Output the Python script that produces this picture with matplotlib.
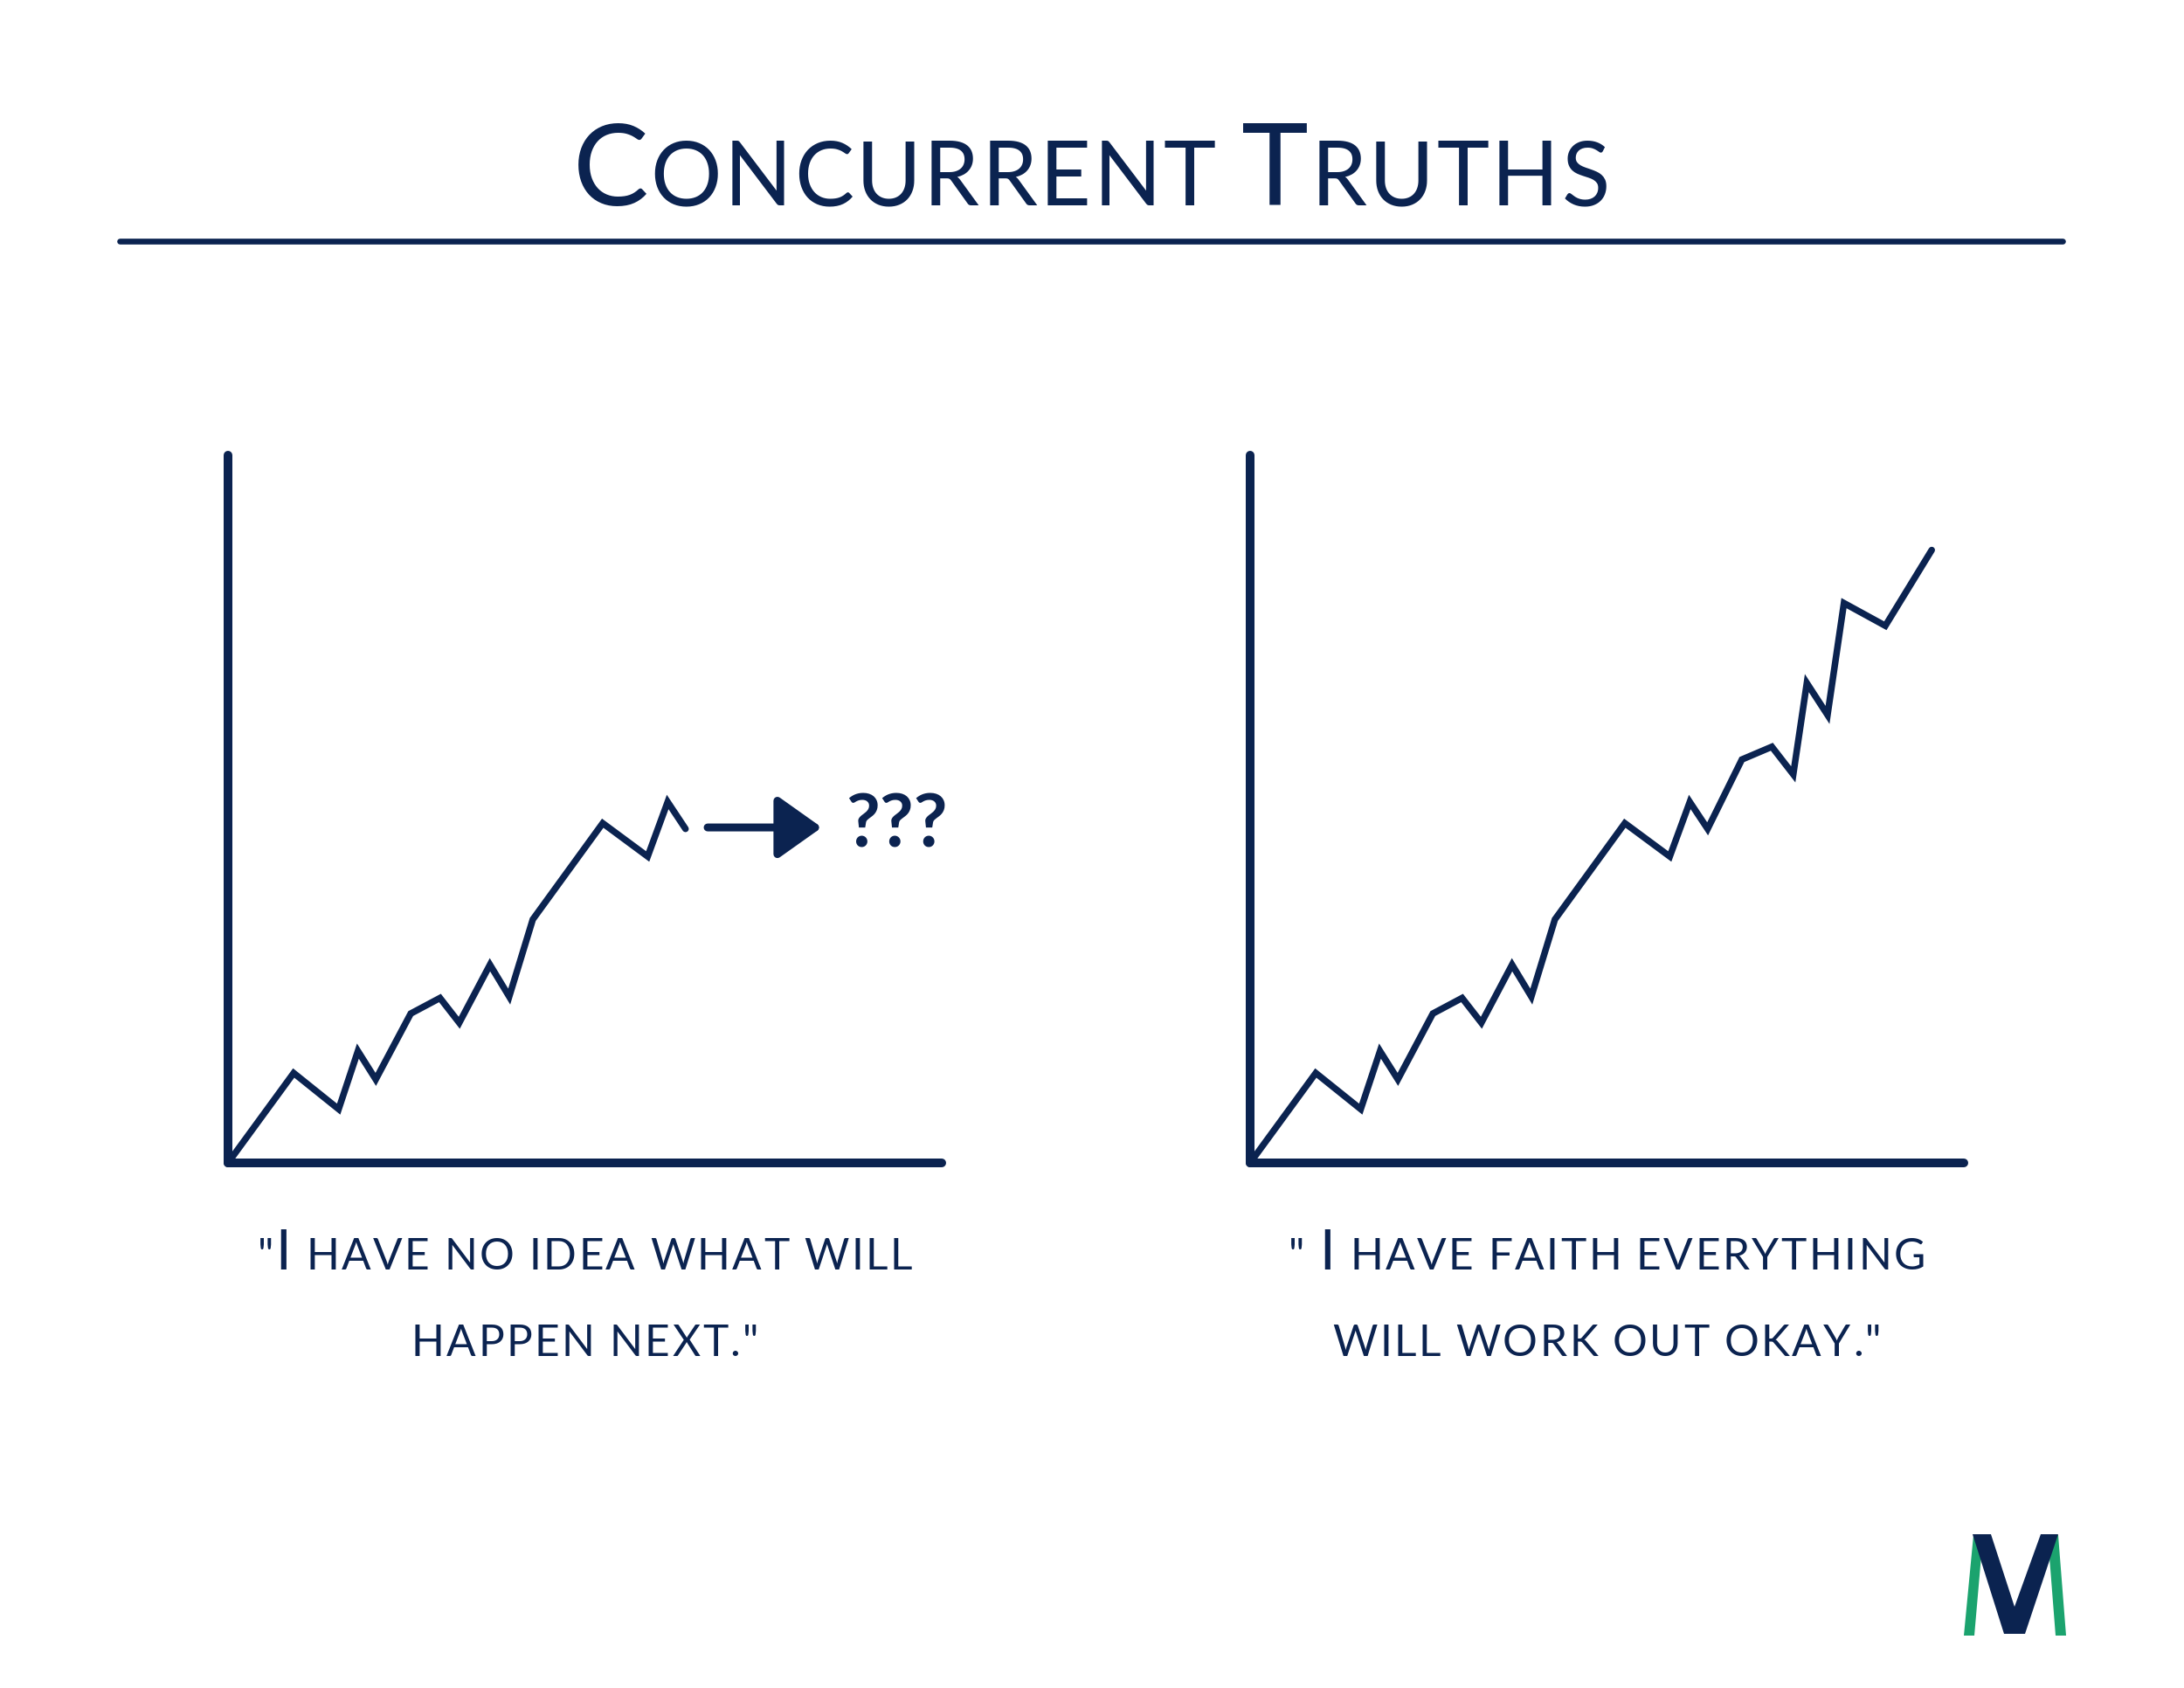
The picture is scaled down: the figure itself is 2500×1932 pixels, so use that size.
import matplotlib
matplotlib.use('Agg')
import matplotlib.pyplot as plt
from matplotlib.patches import Polygon

NAVY = '#0b2350'
GREEN = '#1ba36e'

# Shared path of both charts (axis units 0-100); the left chart stops early
x_steps = [0, 9.2, 15.5, 18.2, 20.7, 25.6, 29.7, 32.4, 36.7, 39.4, 42.7, 52.5,
           58.8, 61.6, 64.1, 68.9, 73.1, 76.1, 78.0, 80.9, 83.2, 89.0, 95.5]
y_values = [0, 12.7, 7.6, 15.8, 11.8, 21.1, 23.3, 19.8, 28.0, 23.5, 34.4, 48.0,
            43.3, 51.0, 47.2, 57.0, 58.8, 54.9, 67.8, 63.3, 79.1, 75.9, 86.6]
known_points = 15

title_parts = [('C', 'big'), ('ONCURRENT', 'small'), (' ', 'small'),
               ('T', 'big'), ('RUTHS', 'small')]
left_caption = [[('"', 'small'), ('I', 'big'), (' HAVE NO IDEA WHAT WILL', 'small')],
                [('HAPPEN NEXT."', 'small')]]
right_caption = [[('" ', 'small'), ('I', 'big'), (' HAVE FAITH EVERYTHING', 'small')],
                 [('WILL WORK OUT OKAY."', 'small')]]
unknown_label = '???'

plt.rcParams['font.family'] = ['Lato', 'DejaVu Sans']

fig = plt.figure(figsize=(25, 19.32), dpi=100)
bg = fig.add_axes([0, 0, 1, 1])
bg.set_xlim(0, 2500)
bg.set_ylim(1932, 0)
bg.axis('off')
renderer = fig.canvas.get_renderer()


def spaced_text(cx, base, parts, sizes, tracking):
    # small-caps style text, laid out letter by letter with extra spacing
    items = []
    for s, kind in parts:
        size = sizes[kind]
        for ch in s:
            if ch == ' ':
                items.append((None, size * 100 / 72 * 0.24))
            else:
                t = bg.text(0, base, ch, fontsize=size, color=NAVY,
                            ha='left', va='baseline')
                items.append((t, t.get_window_extent(renderer).width))
    total = sum(w for _, w in items) + tracking * (len(items) - 1)
    x = cx - total / 2
    for t, w in items:
        if t is not None:
            t.set_x(x)
        x += w + tracking


# title + rule
spaced_text(1249, 235, title_parts, {'big': 93.5, 'small': 73.4}, 2.5)
bg.plot([137, 2361], [276, 276], color=NAVY, lw=4.8, solid_capstyle='round')

# charts
axes_w = 817 / 2500
axes_h = 810 / 1932
bottom = 1 - 1331 / 1932
charts = [(261, known_points, left_caption), (1431, len(x_steps), right_caption)]
for left_px, n, caption in charts:
    ax = fig.add_axes([left_px / 2500, bottom, axes_w, axes_h])
    ax.set_xlim(0, 100)
    ax.set_ylim(0, 100)
    ax.axis('off')
    ax.plot([0, 0], [100, 0], color=NAVY, lw=7.2, solid_capstyle='round', clip_on=False)
    ax.plot([0, 100], [0, 0], color=NAVY, lw=7.2, solid_capstyle='round', clip_on=False)
    ax.plot(x_steps[:n], y_values[:n], color=NAVY, lw=5.4,
            solid_joinstyle='miter', solid_capstyle='round', clip_on=False)
    cx = left_px + 817 / 2
    spaced_text(cx, 1453, caption[0], {'big': 45.2, 'small': 35.7}, 2.5)
    spaced_text(cx, 1552, caption[1], {'big': 45.2, 'small': 35.7}, 2.5)
    if n == known_points:
        ax.annotate('', xy=(83.2, 47.4), xytext=(67.2, 47.4),
                    arrowprops=dict(arrowstyle='-|>,head_length=31,head_width=22',
                                    mutation_scale=1, lw=6.5, color=NAVY,
                                    shrinkA=0, shrinkB=0))
        ax.text(86.5, 44.6, unknown_label, fontsize=61, fontweight='bold',
                color=NAVY, ha='left', va='baseline')

# logo
bg.add_patch(Polygon([(2259, 1757), (2270, 1757), (2260, 1872), (2248, 1872)],
                     closed=True, color=GREEN, lw=0))
bg.add_patch(Polygon([(2344, 1757), (2356, 1757), (2365, 1872), (2353, 1872)],
                     closed=True, color=GREEN, lw=0))
bg.add_patch(Polygon([(2258, 1756), (2279, 1756), (2306, 1839), (2336, 1756),
                      (2356, 1756), (2318, 1870), (2294, 1870)],
                     closed=True, color=NAVY, lw=0))

fig.savefig('out.png', dpi=100, facecolor='white')
